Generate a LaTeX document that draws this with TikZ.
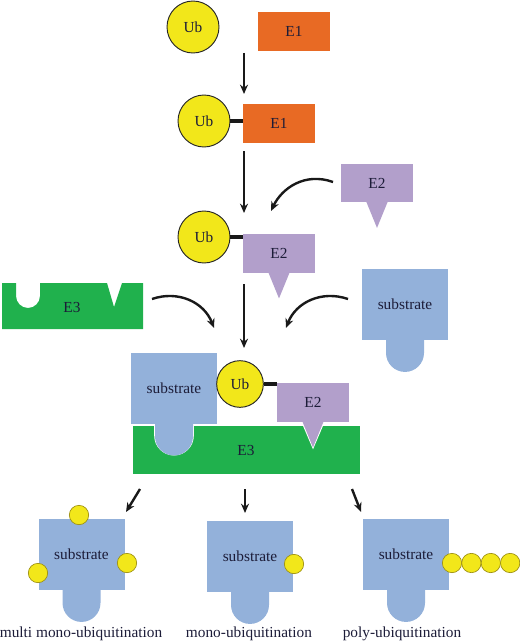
\documentclass[tikz,border=0pt]{standalone}
\usepackage{fontspec}
\setmainfont{Liberation Serif}
\usepackage{tikz}
\usetikzlibrary{arrows.meta}

\definecolor{ubyellow}{HTML}{F2E71A}
\definecolor{ubedge}{HTML}{9C8F10}
\definecolor{eorange}{HTML}{E86A24}
\definecolor{epurple}{HTML}{B29FCB}
\definecolor{egreen}{HTML}{20B14D}
\definecolor{sblue}{HTML}{93B1DA}
\definecolor{txt}{HTML}{1C1C38}

\begin{document}
\begin{tikzpicture}[x=0.75pt,y=-0.75pt,>={Stealth[length=7pt,width=6pt]},
	every node/.style={font=\fontsize{11.5}{13}\selectfont,text=txt},
	ub/.style={circle,draw=black!85,fill=ubyellow,line width=0.7pt,minimum size=39pt,inner sep=0pt},
	ubsmall/.style={circle,draw=ubedge,fill=ubyellow,line width=0.5pt,minimum size=14.5pt,inner sep=0pt},
	eonebox/.style={rectangle,fill=eorange,minimum width=54pt,minimum height=29pt},
	etwobox/.style={rectangle,fill=epurple,minimum width=54pt,minimum height=29pt},
	subbox/.style={rectangle,fill=sblue,minimum width=64.5pt,minimum height=53.25pt},
	arr/.style={->,line width=1.8pt,draw=black!90},
	bond/.style={line width=2.5pt,draw=black!90}]
	\useasboundingbox (0,0) rectangle (520,642);

	% E3 (free) and E3 in the complex
	\fill[egreen] (2,283) -- (16,283) -- (16,296) arc[start angle=180,end angle=360,radius=9pt]
		-- (40,283) -- (107,283) -- (114,307) -- (122,283) -- (143,283) -- (143,329) -- (2,329) -- cycle;
	\node (e3a) at (72,307) {E3};
	\filldraw[fill=egreen,draw=white,line width=1.2pt] (132,425) -- (155,425) -- (155,435.7)
		arc[start angle=180,end angle=360,radius=14.25pt] -- (193,425) -- (303.5,425) -- (313,447.3)
		-- (322.5,425) -- (361,425) -- (361,475) -- (132,475) -- cycle;
	\node (e3b) at (246,450) {E3};

	% enzymes and ubiquitin
	\node[ub] (ub1) at (193,27) {Ub};
	\node[eonebox] (e1a) at (294,31.5) {E1};
	\node[ub] (ub2) at (204,121) {Ub};
	\node[eonebox] (e1b) at (279,123.5) {E1};
	\node[etwobox] (e2a) at (377,183) {E2};
	\node[ub] (ub3) at (204,237) {Ub};
	\node[etwobox] (e2b) at (279,253.5) {E2};

	% substrates
	\node[subbox] (s0) at (405,304.5) {substrate};
	\node[subbox] (s1) at (174,388) {substrate};
	\node[subbox] (s2) at (81.5,554.5) {substrate};
	\node[subbox] (s3) at (250,556.5) {substrate};
	\node[subbox] (s4) at (406,554.5) {substrate};
	\foreach \s in {s0,s1,s2,s3,s4}
		\fill[sblue] ([xshift=-14.25pt,yshift=0.3pt]\s.south) -- ++(0,-9.8pt)
			arc[start angle=180,end angle=360,radius=14.25pt] -- ++(0,9.8pt) -- cycle;

	% complex
	\node[ub,minimum size=35pt] (ub4) at (240,384) {Ub};
	\node[etwobox] (e2c) at (313,402.5) {E2};
	\foreach \e in {e2a,e2b,e2c}
		\fill[epurple] ([xshift=-7.9pt,yshift=0.3pt]\e.south) -- ([yshift=-19pt]\e.south)
			-- ([xshift=7.9pt,yshift=0.3pt]\e.south) -- cycle;

	\draw[bond] (ub2.east) -- (ub2.east -| e1b.west);		%ub--e1
	\draw[bond] (ub3.east) -- (ub3.east -| e2b.west);		%ub--e2
	\draw[bond] (ub4.east) -- (ub4.east -| e2c.west);		%ub--e2 complex

	% ubiquitinated products
	\node[ubsmall] (m1) at (79,515) {};
	\node[ubsmall] (m2) at (127,563) {};
	\node[ubsmall] (m3) at (38,573) {};
	\node[ubsmall] (mo) at (294,564) {};
	\foreach \i in {0,...,3}
		\node[ubsmall] (p\i) at (452+19.4*\i,563) {};

	\node (multi) at (81,634) {multi mono-ubiquitination};
	\node (mono) at (249,634) {mono-ubiquitination};
	\node (poly) at (402,634) {poly-ubiquitination};

	% arrows
	\coordinate (a1s) at (244,53);   \coordinate (a1e) at (244,94);
	\coordinate (a2s) at (244,151);  \coordinate (a2e) at (244,213);
	\coordinate (a3s) at (244,284);  \coordinate (a3e) at (244,348);
	\coordinate (c1s) at (333,182);  \coordinate (c1e) at (271,211);
	\coordinate (c2s) at (152,299);  \coordinate (c2e) at (214,328);
	\coordinate (c3s) at (348,299);  \coordinate (c3e) at (286,328);
	\coordinate (b1s) at (140,489);  \coordinate (b1e) at (126,512);
	\coordinate (b2s) at (245,489);  \coordinate (b2e) at (245,513);
	\coordinate (b3s) at (352,489);  \coordinate (b3e) at (361,512);

	\draw[arr] (a1s) -- (a1e);		%ub+e1--ub-e1
	\draw[arr] (a2s) -- (a2e);		%ub-e1--ub-e2
	\draw[arr] (a3s) -- (a3e);		%ub-e2--complex
	\draw[arr] (c1s) .. controls (305,172) and (282,188) .. (c1e);	%e2 in
	\draw[arr] (c2s) .. controls (178,290) and (204,302) .. (c2e);	%e3 in
	\draw[arr] (c3s) .. controls (322,290) and (296,302) .. (c3e);	%substrate in
	\draw[arr] (b1s) -- (b1e);		%multi
	\draw[arr] (b2s) -- (b2e);		%mono
	\draw[arr] (b3s) -- (b3e);		%poly
\end{tikzpicture}
\end{document}
